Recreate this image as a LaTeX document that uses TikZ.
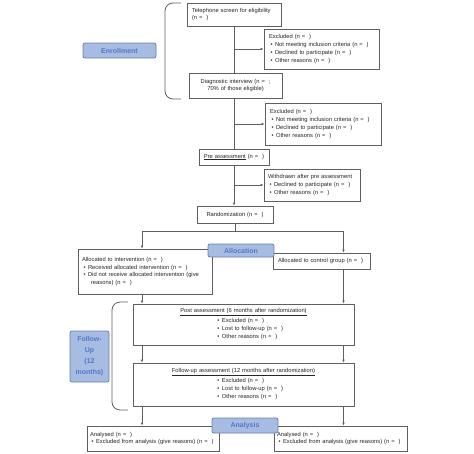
\documentclass[tikz,border=0pt]{standalone}
\usepackage{fontspec}
\setmainfont{Liberation Sans}
\usepackage{xcolor}
\usetikzlibrary{calc}
\usetikzlibrary{arrows.meta}
\definecolor{phasefill}{HTML}{A7BCE2}
\definecolor{phasedraw}{HTML}{6B7FA8}
\definecolor{phasetext}{HTML}{5577C0}
\definecolor{linegray}{HTML}{5F5F5F}
\newcommand{\itm}{\hspace*{1.5pt}\textbullet\hspace{2.5pt}}

\begin{document}
\begin{tikzpicture}[x=1pt,y=-1pt]%%flow
        \tikzstyle{box}     = [draw=linegray, line width=0.8pt, fill=white, inner ysep=0pt, text=black!85, font=\fontsize{5.8}{7.9}\selectfont]
        \tikzstyle{phase}   = [draw=phasedraw, line width=0.8pt, fill=phasefill, rounded corners=2pt, text=phasetext, font=\fontsize{7}{11}\selectfont\bfseries, inner sep=0pt, align=center]
        \tikzstyle{pointer} = [draw=linegray, line width=0.8pt, -{Latex[length=3pt,width=2.6pt]}]
        \tikzstyle{link}    = [draw=linegray, line width=0.8pt]
        \useasboundingbox (0,0) rectangle (474,453);

        % enrollment
        \node [box, text width=84pt, inner xsep=5pt, minimum height=23pt, align=left](tel) at (234,14.5)
                {Telephone screen for eligibility\\(n =~~)};
        \node [box, text width=105pt, inner xsep=5pt, minimum height=40pt, align=left](exc1) at (321.5,49)
                {Excluded (n =~~)\\\itm Not meeting inclusion criteria (n =~~)\\\itm Declined to participate (n =~~)\\\itm Other reasons (n =~~)};
        \node [box, text width=85pt, inner xsep=4pt, minimum height=25pt, align=center](diag) at (235.5,85.5)
                {Diagnostic interview (n =~~;\\70\% of those eligible)};
        \node [box, text width=106pt, inner xsep=5pt, minimum height=42pt, align=left](exc2) at (323,124)
                {Excluded (n =~~)\\\itm Not meeting inclusion criteria (n =~~)\\\itm Declined to participate (n =~~)\\\itm Other reasons (n =~~)};
        \node [box, text width=64pt, inner xsep=3pt, minimum height=16pt, align=center](pre) at (234,157)
                {\underline{Pre assessment} (n =~~)};
        \node [box, text width=88pt, inner xsep=4pt, minimum height=32pt, align=left](withd) at (312,185)
                {Withdrawn after pre assessment\\\itm Declined to participate (n =~~)\\\itm Other reasons (n =~~)};
        \node [box, text width=70pt, inner xsep=3pt, minimum height=17pt, align=center](rand) at (235,214.5)
                {Randomization (n =~~)};

        % allocation
        \node [box, text width=126pt, inner xsep=4pt, minimum height=45pt, align=left](interv) at (145,271.5)
                {Allocated to intervention (n =~~)\\\itm Received allocated intervention (n =~~)\\\itm Did not receive allocated intervention (give\\\hspace*{9pt}reasons) (n =~~)};
        \node [box, text width=87pt, inner xsep=5pt, minimum height=16pt, align=left](ctrl) at (321.5,261)
                {Allocated to control group (n =~~)};

        % follow-up
        \node [box, text width=211pt, inner xsep=5pt, minimum height=41pt, align=center](post) at (243.5,324.5)
                {\underline{Post assessment (6 months after randomization)}\\
                 \hspace*{12pt}\begin{tabular}{@{}l@{}}\itm Excluded (n =~~)\\\itm Lost to follow-up (n =~~)\\\itm Other reasons (n =~~)\end{tabular}};
        \node [box, text width=211pt, inner xsep=5pt, minimum height=43pt, align=center](fup) at (243.5,384.5)
                {\underline{Follow-up assessment (12 months after randomization)}\\
                 \hspace*{12pt}\begin{tabular}{@{}l@{}}\itm Excluded (n =~~)\\\itm Lost to follow-up (n =~~)\\\itm Other reasons (n =~~)\end{tabular}};

        % analysis
        \node [box, text width=126pt, inner xsep=3pt, minimum height=25pt, align=left](anl) at (153,438.5)
                {Analysed (n =~~)\\\itm Excluded from analysis (give reasons) (n =~~)};
        \node [box, text width=127pt, inner xsep=3pt, minimum height=25pt, align=left](anr) at (340.5,438.5)
                {Analysed (n =~~)\\\itm Excluded from analysis (give reasons) (n =~~)};

        % spine
        \draw [link] (tel.south) -- (tel.south |- diag.north);
        \draw [pointer] (tel.south |- exc1.west) -- (exc1.west);
        \draw [link] (pre.north |- diag.south) -- (pre.north);
        \draw [pointer] (pre.north |- exc2.west) -- (exc2.west);
        \draw [pointer] (pre.south) -- (pre.south |- rand.north);
        \draw [pointer] (pre.south |- withd.west) -- (withd.west);

        % two arms
        \coordinate (lcol) at (142,231);
        \coordinate (rcol) at (343.5,231);
        \draw [link] (rand.south) -- (rand.south |- lcol);
        \draw [link] (lcol) -- (rcol);
        \draw [pointer] (lcol) -- (lcol |- interv.north);
        \draw [pointer] (rcol) -- (rcol |- ctrl.north);
        \draw [pointer] (lcol |- interv.south) -- (lcol |- post.north);
        \draw [pointer] (rcol |- ctrl.south) -- (rcol |- post.north);
        \foreach \a/\b/\c in {post/fup/fup, fup/anl/anr}
        {
                \draw [pointer] (lcol |- \a.south) -- (lcol |- \b.north);
                \draw [pointer] (rcol |- \a.south) -- (rcol |- \c.north);
        }

        % brackets
        \draw [link, rounded corners=8pt] (181,3) -- (165,3) -- (165,99) -- (181,99);
        \draw [link, rounded corners=8pt] (128,302) -- (112,302) -- (112,410) -- (128,410);

        % phase labels
        \node [phase, minimum width=73pt, minimum height=15pt](enroll) at (119.5,50.5) {Enrollment};
        \node [phase, minimum width=66pt, minimum height=13pt](alloc) at (241,250.5) {Allocation};
        \node [phase, minimum width=39pt, minimum height=51pt](follow) at (89.5,356.5) {Follow-\\Up\\(12\\months)};
        \node [phase, minimum width=66pt, minimum height=15pt](analysis) at (245,425.5) {Analysis};
\end{tikzpicture}
\end{document}
